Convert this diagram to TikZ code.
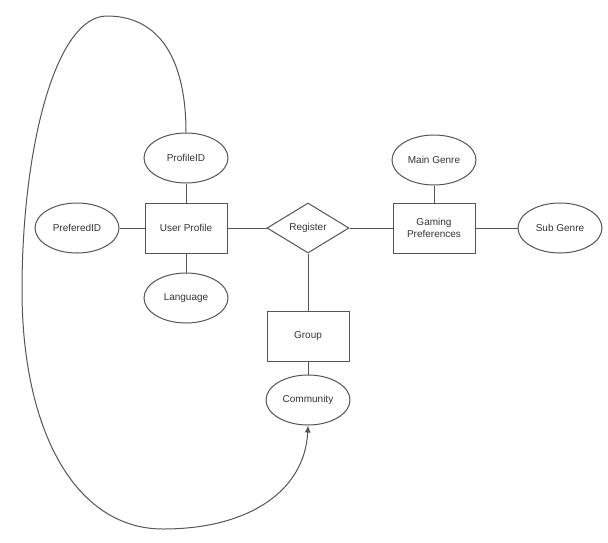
\documentclass[tikz,border=0pt]{standalone}
\usepackage{fontspec}
\setmainfont{Liberation Sans}
\usetikzlibrary{shapes.geometric,arrows.meta}
\definecolor{linec}{HTML}{555555}
\definecolor{textc}{HTML}{333333}
\begin{document}
\begin{tikzpicture}[x=1pt,y=-1pt,
  every node/.style={font=\fontsize{10}{12}\selectfont, text=textc, line width=1pt, draw=linec, inner sep=0pt, align=center},
  ent/.style={rectangle, minimum width=82pt, minimum height=50pt},
  attr/.style={ellipse, minimum width=84pt, minimum height=50pt},
  rel/.style={diamond, minimum width=82pt, minimum height=50pt},
  conn/.style={draw=linec, line width=1pt}]
\useasboundingbox (0,0) rectangle (608,542);
\node[ent] (up) at (186,228) {User Profile};
\node[attr] (pid) at (186,158) {ProfileID};
\node[attr] (lang) at (186,298) {Language};
\node[attr] (pref) at (77,228) {PreferedID};
\node[rel] (reg) at (308,228) {Register};
\node[ent] (gp) at (434,228) {Gaming\\Preferences};
\node[attr] (mg) at (434,160) {Main Genre};
\node[attr] (sg) at (560,228) {Sub Genre};
\node[ent] (grp) at (308,336) {Group};
\node[attr] (com) at (308,400) {Community};
\draw[conn] (pref) -- (up);
\draw[conn] (pid) -- (up);
\draw[conn] (up) -- (lang);
\draw[conn] (up) -- (reg);
\draw[conn] (reg) -- (gp);
\draw[conn] (gp) -- (mg);
\draw[conn] (gp) -- (sg);
\draw[conn] (reg) -- (grp);
\draw[conn] (grp) -- (com);
\draw[conn, -{Latex[length=7pt,width=6pt]}] (pid.north)
  .. controls (186,60) and (160,16) .. (107,16)
  .. controls (55,16) and (22,150) .. (22,290)
  .. controls (22,430) and (75,529) .. (163,529)
  .. controls (250,529) and (305,490) .. (com.south);
\end{tikzpicture}
\end{document}
